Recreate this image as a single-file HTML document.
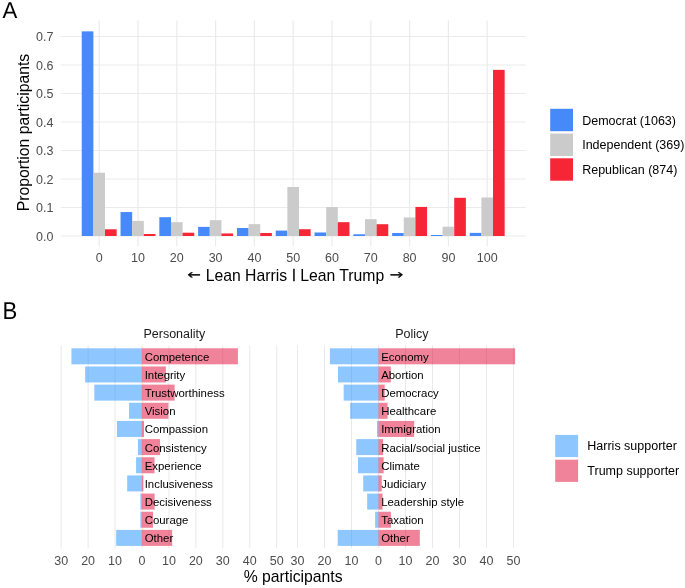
<!DOCTYPE html><html><head><meta charset="utf-8"><title>Figure</title><style>html,body{margin:0;padding:0;background:#fff}svg{display:block}text{font-family:"Liberation Sans",sans-serif;}</style></head><body>
<svg width="685" height="588" viewBox="0 0 685 588">
<rect width="685" height="588" fill="#fff"/>
<g stroke="#EBEBEB" stroke-width="1.2">
<line x1="60.7" x2="525.9" y1="236.00" y2="236.00"/>
<line x1="60.7" x2="525.9" y1="207.50" y2="207.50"/>
<line x1="60.7" x2="525.9" y1="179.00" y2="179.00"/>
<line x1="60.7" x2="525.9" y1="150.50" y2="150.50"/>
<line x1="60.7" x2="525.9" y1="122.00" y2="122.00"/>
<line x1="60.7" x2="525.9" y1="93.50" y2="93.50"/>
<line x1="60.7" x2="525.9" y1="65.00" y2="65.00"/>
<line x1="60.7" x2="525.9" y1="36.50" y2="36.50"/>
<line x1="99.20" x2="99.20" y1="20.5" y2="246.3"/>
<line x1="138.00" x2="138.00" y1="20.5" y2="246.3"/>
<line x1="176.80" x2="176.80" y1="20.5" y2="246.3"/>
<line x1="215.60" x2="215.60" y1="20.5" y2="246.3"/>
<line x1="254.40" x2="254.40" y1="20.5" y2="246.3"/>
<line x1="293.20" x2="293.20" y1="20.5" y2="246.3"/>
<line x1="332.00" x2="332.00" y1="20.5" y2="246.3"/>
<line x1="370.80" x2="370.80" y1="20.5" y2="246.3"/>
<line x1="409.60" x2="409.60" y1="20.5" y2="246.3"/>
<line x1="448.40" x2="448.40" y1="20.5" y2="246.3"/>
<line x1="487.20" x2="487.20" y1="20.5" y2="246.3"/>
</g>
<rect x="81.74" y="31.37" width="11.64" height="204.63" fill="#4689F8"/>
<rect x="93.38" y="172.73" width="11.64" height="63.27" fill="#CBCBCB"/>
<rect x="105.02" y="229.30" width="11.64" height="6.70" fill="#F62637"/>
<rect x="120.54" y="212.06" width="11.64" height="23.94" fill="#4689F8"/>
<rect x="132.18" y="220.90" width="11.64" height="15.11" fill="#CBCBCB"/>
<rect x="143.82" y="234.00" width="11.64" height="2.00" fill="#F62637"/>
<rect x="159.34" y="217.19" width="11.64" height="18.81" fill="#4689F8"/>
<rect x="170.98" y="222.18" width="11.64" height="13.82" fill="#CBCBCB"/>
<rect x="182.62" y="232.72" width="11.64" height="3.28" fill="#F62637"/>
<rect x="198.14" y="226.88" width="11.64" height="9.12" fill="#4689F8"/>
<rect x="209.78" y="220.18" width="11.64" height="15.82" fill="#CBCBCB"/>
<rect x="221.42" y="233.44" width="11.64" height="2.56" fill="#F62637"/>
<rect x="236.94" y="228.02" width="11.64" height="7.98" fill="#4689F8"/>
<rect x="248.58" y="224.17" width="11.64" height="11.83" fill="#CBCBCB"/>
<rect x="260.22" y="233.01" width="11.64" height="2.99" fill="#F62637"/>
<rect x="275.74" y="230.59" width="11.64" height="5.42" fill="#4689F8"/>
<rect x="287.38" y="186.98" width="11.64" height="49.02" fill="#CBCBCB"/>
<rect x="299.02" y="229.22" width="11.64" height="6.78" fill="#F62637"/>
<rect x="314.54" y="232.49" width="11.64" height="3.51" fill="#4689F8"/>
<rect x="326.18" y="207.10" width="11.64" height="28.90" fill="#CBCBCB"/>
<rect x="337.82" y="222.18" width="11.64" height="13.82" fill="#F62637"/>
<rect x="353.34" y="234.29" width="11.64" height="1.71" fill="#4689F8"/>
<rect x="364.98" y="219.19" width="11.64" height="16.81" fill="#CBCBCB"/>
<rect x="376.62" y="224.20" width="11.64" height="11.80" fill="#F62637"/>
<rect x="392.14" y="232.98" width="11.64" height="3.02" fill="#4689F8"/>
<rect x="403.78" y="217.47" width="11.64" height="18.53" fill="#CBCBCB"/>
<rect x="415.42" y="206.93" width="11.64" height="29.07" fill="#F62637"/>
<rect x="430.94" y="235.00" width="11.64" height="1.00" fill="#4689F8"/>
<rect x="442.58" y="226.71" width="11.64" height="9.29" fill="#CBCBCB"/>
<rect x="454.22" y="197.81" width="11.64" height="38.19" fill="#F62637"/>
<rect x="469.74" y="232.87" width="11.64" height="3.13" fill="#4689F8"/>
<rect x="481.38" y="197.53" width="11.64" height="38.48" fill="#CBCBCB"/>
<rect x="493.02" y="69.84" width="11.64" height="166.16" fill="#F62637"/>
<g font-size="12.5" fill="#4D4D4D" text-anchor="end">
<text x="53.4" y="240.80">0.0</text>
<text x="53.4" y="212.30">0.1</text>
<text x="53.4" y="183.80">0.2</text>
<text x="53.4" y="155.30">0.3</text>
<text x="53.4" y="126.80">0.4</text>
<text x="53.4" y="98.30">0.5</text>
<text x="53.4" y="69.80">0.6</text>
<text x="53.4" y="41.30">0.7</text>
</g>
<g font-size="12.5" fill="#4D4D4D" text-anchor="middle">
<text x="99.20" y="262.2">0</text>
<text x="138.00" y="262.2">10</text>
<text x="176.80" y="262.2">20</text>
<text x="215.60" y="262.2">30</text>
<text x="254.40" y="262.2">40</text>
<text x="293.20" y="262.2">50</text>
<text x="332.00" y="262.2">60</text>
<text x="370.80" y="262.2">70</text>
<text x="409.60" y="262.2">80</text>
<text x="448.40" y="262.2">90</text>
<text x="487.20" y="262.2">100</text>
</g>
<text y="280.6" font-size="15.75" fill="#000"><tspan x="187.2" y="279.75" font-family="IPAGothic, sans-serif" font-size="13.6" stroke="#000" stroke-width="0.45">← </tspan><tspan x="205.7" y="280.6">Lean Harris </tspan><tspan x="292.3" y="278.4" font-size="12.6" stroke="#000" stroke-width="0.5">| </tspan><tspan x="300.2" y="280.6">Lean Trump </tspan><tspan x="389.8" y="279.75" font-family="IPAGothic, sans-serif" font-size="13.6" stroke="#000" stroke-width="0.45">→</tspan></text>
<text transform="translate(28.7,132.6) rotate(-90) scale(1,1.1)" font-size="15.75" text-anchor="middle" fill="#000">Proportion participants</text>
<text transform="translate(2.4,18.25) scale(1,1.03)" font-size="22.2" fill="#000" text-rendering="geometricPrecision">A</text>
<text transform="translate(2.5,318.8) scale(1,1.1)" font-size="22.2" fill="#000" text-rendering="geometricPrecision">B</text>
<rect x="550.2" y="108.80" width="22.8" height="22.4" fill="#4689F8"/>
<text x="582.2" y="124.80" font-size="12.5" fill="#000">Democrat (1063)</text>
<rect x="550.2" y="133.55" width="22.8" height="22.4" fill="#CBCBCB"/>
<text x="582.2" y="149.35" font-size="12.5" fill="#000">Independent (369)</text>
<rect x="550.2" y="158.30" width="22.8" height="22.4" fill="#F62637"/>
<text x="582.2" y="173.90" font-size="12.5" fill="#000">Republican (874)</text>
<g stroke="#E6E6E6" stroke-width="0.9">
<line x1="61.18" x2="61.18" y1="345.5" y2="548.2"/>
<line x1="88.12" x2="88.12" y1="345.5" y2="548.2"/>
<line x1="115.06" x2="115.06" y1="345.5" y2="548.2"/>
<line x1="142.00" x2="142.00" y1="345.5" y2="548.2"/>
<line x1="168.94" x2="168.94" y1="345.5" y2="548.2"/>
<line x1="195.88" x2="195.88" y1="345.5" y2="548.2"/>
<line x1="222.82" x2="222.82" y1="345.5" y2="548.2"/>
<line x1="249.76" x2="249.76" y1="345.5" y2="548.2"/>
<line x1="276.70" x2="276.70" y1="345.5" y2="548.2"/>
</g>
<rect x="71.42" y="348.30" width="70.58" height="16.0" fill="#1E90FF" fill-opacity="0.5"/>
<rect x="142.00" y="348.30" width="95.91" height="16.0" fill="#E10733" fill-opacity="0.5"/>
<rect x="85.16" y="366.46" width="56.84" height="16.0" fill="#1E90FF" fill-opacity="0.5"/>
<rect x="142.00" y="366.46" width="23.84" height="16.0" fill="#E10733" fill-opacity="0.5"/>
<rect x="94.32" y="384.62" width="47.68" height="16.0" fill="#1E90FF" fill-opacity="0.5"/>
<rect x="142.00" y="384.62" width="32.60" height="16.0" fill="#E10733" fill-opacity="0.5"/>
<rect x="129.07" y="402.78" width="12.93" height="16.0" fill="#1E90FF" fill-opacity="0.5"/>
<rect x="142.00" y="402.78" width="26.40" height="16.0" fill="#E10733" fill-opacity="0.5"/>
<rect x="116.95" y="420.94" width="25.05" height="16.0" fill="#1E90FF" fill-opacity="0.5"/>
<rect x="142.00" y="420.94" width="2.02" height="16.0" fill="#E10733" fill-opacity="0.5"/>
<rect x="137.96" y="439.10" width="4.04" height="16.0" fill="#1E90FF" fill-opacity="0.5"/>
<rect x="142.00" y="439.10" width="18.05" height="16.0" fill="#E10733" fill-opacity="0.5"/>
<rect x="136.07" y="457.26" width="5.93" height="16.0" fill="#1E90FF" fill-opacity="0.5"/>
<rect x="142.00" y="457.26" width="12.53" height="16.0" fill="#E10733" fill-opacity="0.5"/>
<rect x="127.18" y="475.42" width="14.82" height="16.0" fill="#1E90FF" fill-opacity="0.5"/>
<rect x="142.00" y="475.42" width="1.35" height="16.0" fill="#E10733" fill-opacity="0.5"/>
<rect x="140.38" y="493.58" width="1.62" height="16.0" fill="#1E90FF" fill-opacity="0.5"/>
<rect x="142.00" y="493.58" width="12.66" height="16.0" fill="#E10733" fill-opacity="0.5"/>
<rect x="140.38" y="511.74" width="1.62" height="16.0" fill="#1E90FF" fill-opacity="0.5"/>
<rect x="142.00" y="511.74" width="11.05" height="16.0" fill="#E10733" fill-opacity="0.5"/>
<rect x="116.14" y="529.90" width="25.86" height="16.0" fill="#1E90FF" fill-opacity="0.5"/>
<rect x="142.00" y="529.90" width="30.17" height="16.0" fill="#E10733" fill-opacity="0.5"/>
<g font-size="11.4" fill="#000">
<text x="144.70" y="360.80">Competence</text>
<text x="144.70" y="378.96">Integrity</text>
<text x="144.70" y="397.12">Trustworthiness</text>
<text x="144.70" y="415.28">Vision</text>
<text x="144.70" y="433.44">Compassion</text>
<text x="144.70" y="451.60">Consistency</text>
<text x="144.70" y="469.76">Experience</text>
<text x="144.70" y="487.92">Inclusiveness</text>
<text x="144.70" y="506.08">Decisiveness</text>
<text x="144.70" y="524.24">Courage</text>
<text x="144.70" y="542.40">Other</text>
</g>
<g font-size="12.5" fill="#4D4D4D" text-anchor="middle">
<text x="61.18" y="565">30</text>
<text x="88.12" y="565">20</text>
<text x="115.06" y="565">10</text>
<text x="142.00" y="565">0</text>
<text x="168.94" y="565">10</text>
<text x="195.88" y="565">20</text>
<text x="222.82" y="565">30</text>
<text x="249.76" y="565">40</text>
<text x="276.70" y="565">50</text>
</g>
<text x="174.4" y="337.5" font-size="12.5" text-anchor="middle" fill="#1A1A1A">Personality</text>
<g stroke="#E6E6E6" stroke-width="0.9">
<line x1="297.50" x2="297.50" y1="345.5" y2="548.2"/>
<line x1="324.50" x2="324.50" y1="345.5" y2="548.2"/>
<line x1="351.50" x2="351.50" y1="345.5" y2="548.2"/>
<line x1="378.50" x2="378.50" y1="345.5" y2="548.2"/>
<line x1="405.50" x2="405.50" y1="345.5" y2="548.2"/>
<line x1="432.50" x2="432.50" y1="345.5" y2="548.2"/>
<line x1="459.50" x2="459.50" y1="345.5" y2="548.2"/>
<line x1="486.50" x2="486.50" y1="345.5" y2="548.2"/>
<line x1="513.50" x2="513.50" y1="345.5" y2="548.2"/>
</g>
<rect x="329.90" y="348.30" width="48.60" height="16.0" fill="#1E90FF" fill-opacity="0.5"/>
<rect x="378.50" y="348.30" width="136.62" height="16.0" fill="#E10733" fill-opacity="0.5"/>
<rect x="338.00" y="366.46" width="40.50" height="16.0" fill="#1E90FF" fill-opacity="0.5"/>
<rect x="378.50" y="366.46" width="12.29" height="16.0" fill="#E10733" fill-opacity="0.5"/>
<rect x="343.67" y="384.62" width="34.83" height="16.0" fill="#1E90FF" fill-opacity="0.5"/>
<rect x="378.50" y="384.62" width="6.21" height="16.0" fill="#E10733" fill-opacity="0.5"/>
<rect x="350.15" y="402.78" width="28.35" height="16.0" fill="#1E90FF" fill-opacity="0.5"/>
<rect x="378.50" y="402.78" width="9.05" height="16.0" fill="#E10733" fill-opacity="0.5"/>
<rect x="377.01" y="420.94" width="1.49" height="16.0" fill="#1E90FF" fill-opacity="0.5"/>
<rect x="378.50" y="420.94" width="35.64" height="16.0" fill="#E10733" fill-opacity="0.5"/>
<rect x="356.23" y="439.10" width="22.28" height="16.0" fill="#1E90FF" fill-opacity="0.5"/>
<rect x="378.50" y="439.10" width="4.59" height="16.0" fill="#E10733" fill-opacity="0.5"/>
<rect x="357.98" y="457.26" width="20.52" height="16.0" fill="#1E90FF" fill-opacity="0.5"/>
<rect x="378.50" y="457.26" width="5.13" height="16.0" fill="#E10733" fill-opacity="0.5"/>
<rect x="363.25" y="475.42" width="15.26" height="16.0" fill="#1E90FF" fill-opacity="0.5"/>
<rect x="378.50" y="475.42" width="3.24" height="16.0" fill="#E10733" fill-opacity="0.5"/>
<rect x="367.16" y="493.58" width="11.34" height="16.0" fill="#1E90FF" fill-opacity="0.5"/>
<rect x="378.50" y="493.58" width="4.05" height="16.0" fill="#E10733" fill-opacity="0.5"/>
<rect x="375.12" y="511.74" width="3.38" height="16.0" fill="#1E90FF" fill-opacity="0.5"/>
<rect x="378.50" y="511.74" width="12.42" height="16.0" fill="#E10733" fill-opacity="0.5"/>
<rect x="337.73" y="529.90" width="40.77" height="16.0" fill="#1E90FF" fill-opacity="0.5"/>
<rect x="378.50" y="529.90" width="41.31" height="16.0" fill="#E10733" fill-opacity="0.5"/>
<g font-size="11.4" fill="#000">
<text x="381.20" y="360.80">Economy</text>
<text x="381.20" y="378.96">Abortion</text>
<text x="381.20" y="397.12">Democracy</text>
<text x="381.20" y="415.28">Healthcare</text>
<text x="381.20" y="433.44">Immigration</text>
<text x="381.20" y="451.60">Racial/social justice</text>
<text x="381.20" y="469.76">Climate</text>
<text x="381.20" y="487.92">Judiciary</text>
<text x="381.20" y="506.08">Leadership style</text>
<text x="381.20" y="524.24">Taxation</text>
<text x="381.20" y="542.40">Other</text>
</g>
<g font-size="12.5" fill="#4D4D4D" text-anchor="middle">
<text x="297.50" y="565">30</text>
<text x="324.50" y="565">20</text>
<text x="351.50" y="565">10</text>
<text x="378.50" y="565">0</text>
<text x="405.50" y="565">10</text>
<text x="432.50" y="565">20</text>
<text x="459.50" y="565">30</text>
<text x="486.50" y="565">40</text>
<text x="513.50" y="565">50</text>
</g>
<text x="411.8" y="337.5" font-size="12.5" text-anchor="middle" fill="#1A1A1A">Policy</text>
<text x="293.1" y="582.1" font-size="15.75" text-anchor="middle" fill="#000">% participants</text>
<rect x="555.2" y="434.90" width="22.9" height="22.2" fill="#1E90FF" fill-opacity="0.5"/>
<text x="587.3" y="450.40" font-size="12.5" fill="#000">Harris supporter</text>
<rect x="555.2" y="459.70" width="22.9" height="22.2" fill="#E10733" fill-opacity="0.5"/>
<text x="587.3" y="475.20" font-size="12.5" fill="#000">Trump supporter</text>
</svg></body></html>
